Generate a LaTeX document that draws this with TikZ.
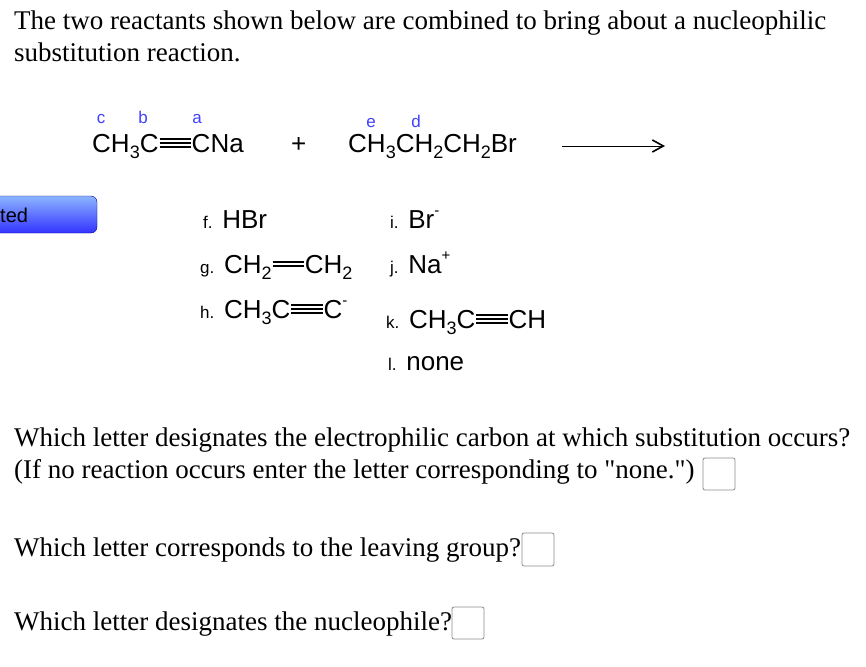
\documentclass[tikz,border=0pt]{standalone}
\usepackage{fontspec}
\usetikzlibrary{arrows.meta}
\setmainfont{Liberation Serif}
\newfontfamily\chem{Liberation Sans}
\newcommand\chsub[1]{\raisebox{-0.25em}{\fontsize{18}{18}\selectfont #1}}
\newcommand\chsup[1]{\raisebox{0.5em}{\fontsize{15}{15}\selectfont #1}}
\newcommand\tribond{\kern1pt\rlap{\rule[0.17em]{1.2em}{0.05em}}\rlap{\rule[0.32em]{1.2em}{0.05em}}\rule[0.47em]{1.2em}{0.05em}\kern1pt}
\newcommand\dbond{\kern1pt\rlap{\rule[0.24em]{1.2em}{0.05em}}\rule[0.40em]{1.2em}{0.05em}\kern1pt}
\newcommand\chlab[1]{{\fontsize{17}{17}\selectfont #1}}
\begin{document}
\begin{tikzpicture}[x=1pt,y=-1pt,
  q/.style={anchor=base west,inner sep=0pt,font=\fontsize{27}{32}\selectfont},
  ch/.style={anchor=base west,inner sep=0pt,font=\chem\fontsize{26}{30}\selectfont},
  lb/.style={anchor=base,inner sep=0pt,font=\chem\fontsize{17}{17}\selectfont,text=blue!75!white},
  ans/.style={draw=black!45,line width=0.8pt,rounded corners=2pt}]
\useasboundingbox (0,0) rectangle (866,666);
\node[q] (t1) at (14,30) {The two reactants shown below are combined to bring about a nucleophilic};
\node[q] (t2) at (14,62) {substitution reaction.};
\node[ch] (r1) at (92,152) {CH\chsub3C\tribond CNa};
\node[ch] (plus) at (291,152) {+};
\node[ch] (r2) at (348,152) {CH\chsub3CH\chsub2CH\chsub2Br};
\coordinate (a1) at (562,146); \coordinate (a2) at (665,146);
\draw[line width=1pt,-{Straight Barb[length=11pt,width=12pt,line width=1.6pt]}] (a1) -- (a2);
\node[lb] (lc) at (101,124) {c};
\node[lb] (lbb) at (143,124) {b};
\node[lb] (la) at (197,124) {a};
\node[lb] (le) at (371,128) {e};
\node[lb] (ld) at (416,128) {d};
\shade[top color=cyan!35!blue!45,bottom color=blue!80,rounded corners=6pt,draw=blue!55!black] (-12,196) rectangle (97,233);
\node[anchor=base west,inner sep=0pt,font=\chem\fontsize{20}{20}\selectfont] (btn) at (0,222) {ted};
\node[ch] (f) at (203,228) {\chlab{f.} HBr};
\node[ch] (i) at (390,228) {\chlab{i.} Br\chsup{-}};
\node[ch] (g) at (200,273) {\chlab{g.} CH\chsub2\dbond CH\chsub2};
\node[ch] (j) at (390,273) {\chlab{j.} Na\chsup{+}};
\node[ch] (h) at (200,318) {\chlab{h.} CH\chsub3C\tribond C\chsup{-}};
\node[ch] (k) at (386,328) {\chlab{k.} CH\chsub3C\tribond CH};
\node[ch] (l) at (388,370) {\chlab{l.} none};
\node[q] (q1) at (14,446) {Which letter designates the electrophilic carbon at which substitution occurs?};
\node[q] (q2) at (14,478) {(If no reaction occurs enter the letter corresponding to \textquotedbl none.\textquotedbl)};
\draw[ans] (703,458) rectangle (735,490);
\node[q] (q3) at (14,556) {Which letter corresponds to the leaving group?};
\draw[ans] (522,533) rectangle (554,566);
\node[q] (q4) at (14,630) {Which letter designates the nucleophile?};
\draw[ans] (452,607) rectangle (484,639);
\end{tikzpicture}
\end{document}
